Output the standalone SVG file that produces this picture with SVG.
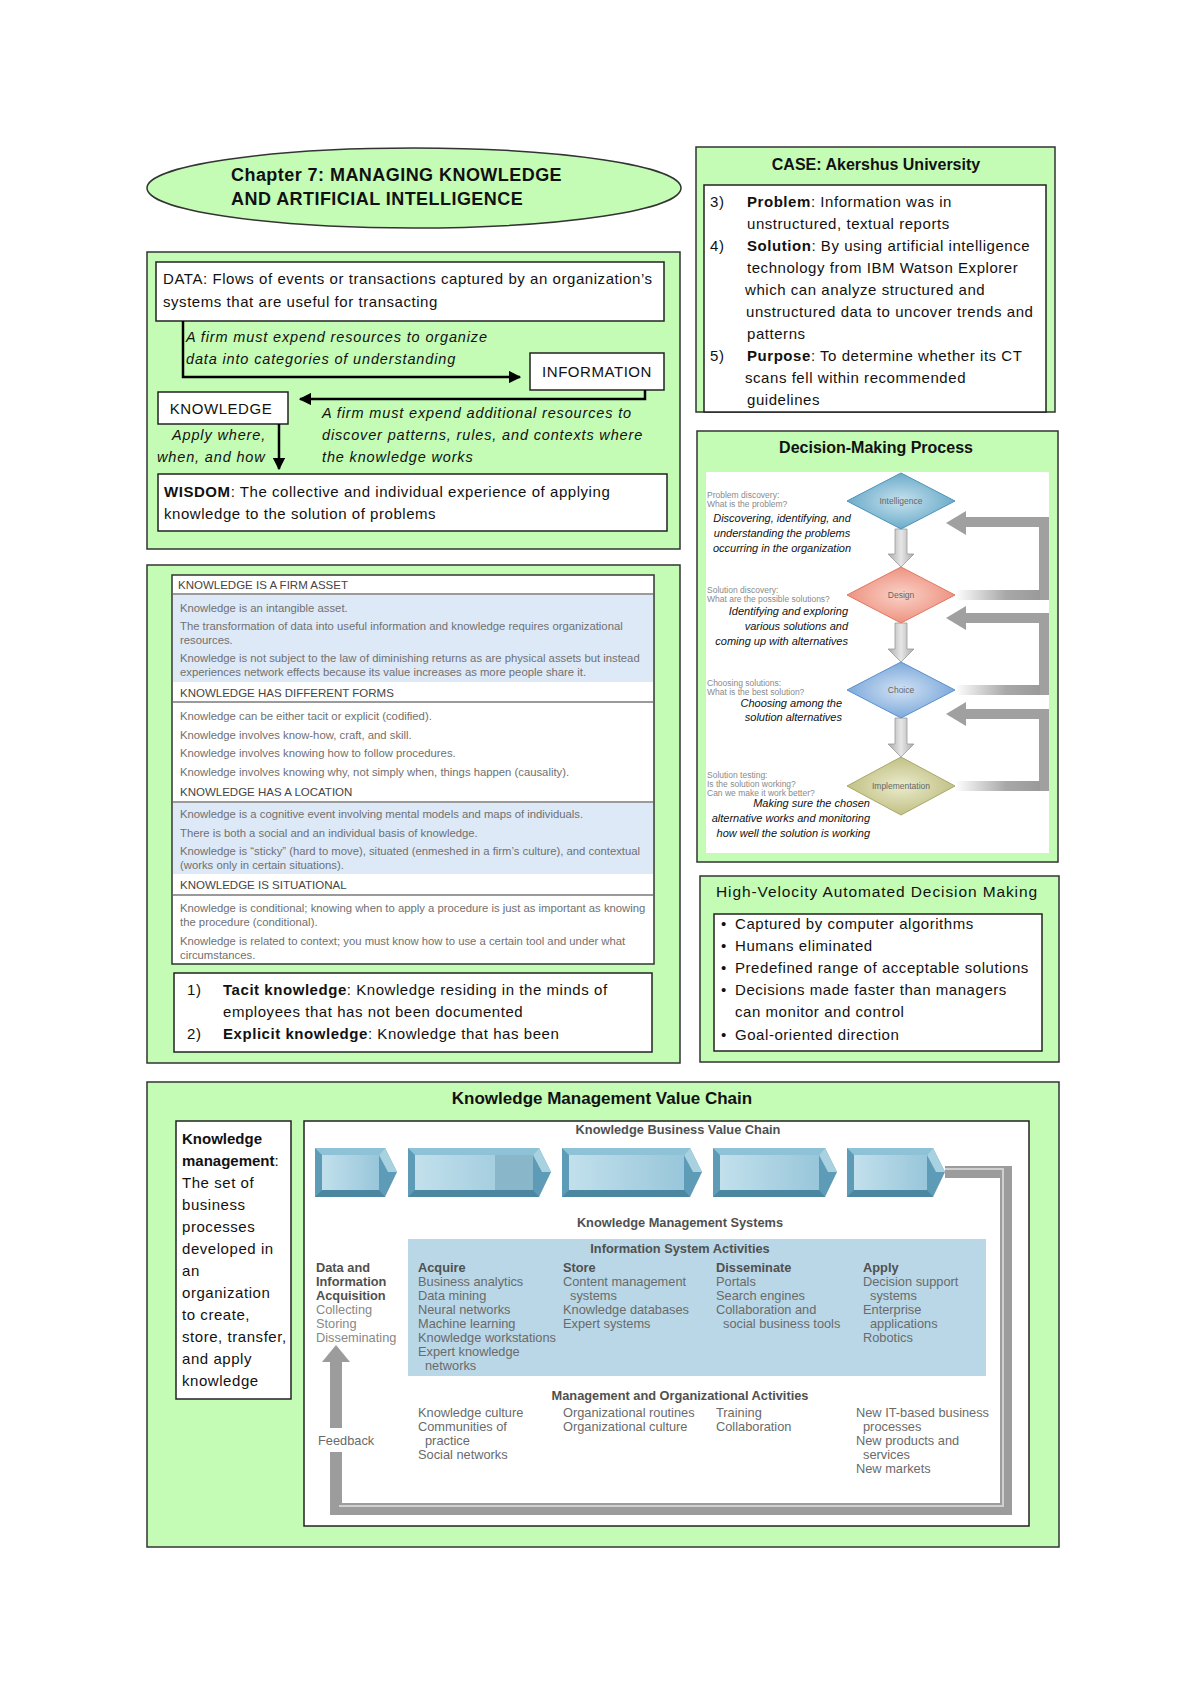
<svg xmlns="http://www.w3.org/2000/svg" width="1200" height="1696" viewBox="0 0 1200 1696">
<defs>
<style>
.panel{fill:#c4fcb6;stroke:#333;stroke-width:1.5}
.box{fill:#fff;stroke:#222;stroke-width:1.5}
.t{font-family:"Liberation Sans",Arial,sans-serif;fill:#111}
.b15{font-size:15px;letter-spacing:0.55px}
.it{font-style:italic;font-size:14.5px;letter-spacing:0.85px}
.ttl{font-size:16px;font-weight:bold}
.tb{font-size:11.3px;fill:#707070}
.th{font-size:11.5px;fill:#454545}
.dg{font-size:8.5px;fill:#8a8a8a}
.di{font-size:11px;font-style:italic;fill:#111}
.dl{font-size:8.5px;fill:#666}
.km{font-size:12.8px;fill:#6a6a6a}
.kmh{font-size:12.8px;fill:#505050;font-weight:bold}
.conn{fill:none;stroke:#000;stroke-width:2.5}
</style>
<marker id="ah" viewBox="0 0 10 10" refX="9" refY="5" markerWidth="5" markerHeight="5" orient="auto" markerUnits="strokeWidth">
<path d="M0,0 L10,5 L0,10 z" fill="#000"/>
</marker>
<radialGradient id="gI" cx="50%" cy="50%" r="60%"><stop offset="0" stop-color="#c6e2ee"/><stop offset="1" stop-color="#5aa0c2"/></radialGradient>
<radialGradient id="gD" cx="50%" cy="50%" r="60%"><stop offset="0" stop-color="#f9d2c8"/><stop offset="1" stop-color="#ec8672"/></radialGradient>
<radialGradient id="gC" cx="50%" cy="50%" r="60%"><stop offset="0" stop-color="#d2e2f4"/><stop offset="1" stop-color="#6c9ed6"/></radialGradient>
<radialGradient id="gM" cx="50%" cy="50%" r="60%"><stop offset="0" stop-color="#ebebcc"/><stop offset="1" stop-color="#b8b878"/></radialGradient>
<linearGradient id="gDown" x1="0" y1="0" x2="1" y2="0"><stop offset="0" stop-color="#aaa"/><stop offset="0.5" stop-color="#e6e6e6"/><stop offset="1" stop-color="#aaa"/></linearGradient>
<linearGradient id="gFb" x1="0" y1="0" x2="1" y2="0"><stop offset="0" stop-color="#fff"/><stop offset="0.6" stop-color="#a8a8a8"/><stop offset="1" stop-color="#9a9a9a"/></linearGradient>
<linearGradient id="gCh" x1="0" y1="0" x2="1" y2="0"><stop offset="0" stop-color="#c2e0ec"/><stop offset="1" stop-color="#98c6da"/></linearGradient>
</defs>
<rect width="1200" height="1696" fill="#fff"/>

<g id="title">
<ellipse cx="414" cy="188" rx="267" ry="40" fill="#c4fcb6" stroke="#333" stroke-width="1.5"/>
<text class="t" x="231" y="181" font-size="18" font-weight="bold" letter-spacing="0.45">Chapter 7: MANAGING KNOWLEDGE</text>
<text class="t" x="231" y="205" font-size="18" font-weight="bold" letter-spacing="0.45">AND ARTIFICIAL INTELLIGENCE</text>
</g>

<g id="dikw-panel">
<rect class="panel" x="147" y="252" width="533" height="297"/>
</g>
<g id="data">
<rect class="box" x="156" y="262" width="508" height="59"/>
<text class="t b15" x="163" y="284">DATA: Flows of events or transactions captured by an organization’s</text>
<text class="t b15" x="163" y="307">systems that are useful for transacting</text>
</g>
<g id="information">
<rect class="box" x="530" y="353" width="134" height="37"/>
<text class="t b15" x="597" y="377" text-anchor="middle">INFORMATION</text>
</g>
<g id="knowledge">
<rect class="box" x="158" y="392" width="130" height="32"/>
<text class="t b15" x="221" y="414" text-anchor="middle">KNOWLEDGE</text>
</g>
<g id="wisdom">
<rect class="box" x="158" y="474" width="509" height="57"/>
<text class="t b15" x="164" y="497" letter-spacing="0.7"><tspan font-weight="bold">WISDOM</tspan>: The collective and individual experience of applying</text>
<text class="t b15" x="164" y="519" letter-spacing="0.7">knowledge to the solution of problems</text>
</g>
<g id="connectors">
<path class="conn" d="M183 321 V377 H520" marker-end="url(#ah)"/>
<path class="conn" d="M645 390 V399 H300" marker-end="url(#ah)"/>
<path class="conn" d="M279 424 V469" marker-end="url(#ah)"/>
</g>
<g id="dikw-labels">
<text class="t it" x="186" y="342">A firm must expend resources to organize</text>
<text class="t it" x="186" y="364">data into categories of understanding</text>
<text class="t it" x="322" y="418">A firm must expend additional resources to</text>
<text class="t it" x="322" y="440">discover patterns, rules, and contexts where</text>
<text class="t it" x="322" y="462">the knowledge works</text>
<text class="t it" x="172" y="440" letter-spacing="0.3">Apply where,</text>
<text class="t it" x="157" y="462" letter-spacing="0.3">when, and how</text>
</g>

<g id="knowledge-table-panel">
<rect class="panel" x="147" y="565" width="533" height="498"/>
<rect x="172" y="575" width="482" height="389" fill="#fff"/>
<rect x="173" y="595" width="480" height="87" fill="#dde9f7"/>
<rect x="173" y="802" width="480" height="72" fill="#dde9f7"/>
<g stroke="#9a9a9a" stroke-width="2">
<line x1="173" y1="594" x2="653" y2="594"/>
<line x1="173" y1="702" x2="653" y2="702"/>
<line x1="173" y1="802" x2="653" y2="802"/>
<line x1="173" y1="895" x2="653" y2="895"/>
</g>
<rect x="172" y="575" width="482" height="389" fill="none" stroke="#333" stroke-width="1.5"/>
<text class="t th" x="178" y="589">KNOWLEDGE IS A FIRM ASSET</text>
<text class="t tb" x="180" y="612">Knowledge is an intangible asset.</text>
<text class="t tb" x="180" y="630">The transformation of data into useful information and knowledge requires organizational</text>
<text class="t tb" x="180" y="644">resources.</text>
<text class="t tb" x="180" y="662">Knowledge is not subject to the law of diminishing returns as are physical assets but instead</text>
<text class="t tb" x="180" y="676">experiences network effects because its value increases as more people share it.</text>
<text class="t th" x="180" y="697">KNOWLEDGE HAS DIFFERENT FORMS</text>
<text class="t tb" x="180" y="720">Knowledge can be either tacit or explicit (codified).</text>
<text class="t tb" x="180" y="739">Knowledge involves know-how, craft, and skill.</text>
<text class="t tb" x="180" y="757">Knowledge involves knowing how to follow procedures.</text>
<text class="t tb" x="180" y="776">Knowledge involves knowing why, not simply when, things happen (causality).</text>
<text class="t th" x="180" y="796">KNOWLEDGE HAS A LOCATION</text>
<text class="t tb" x="180" y="818">Knowledge is a cognitive event involving mental models and maps of individuals.</text>
<text class="t tb" x="180" y="837">There is both a social and an individual basis of knowledge.</text>
<text class="t tb" x="180" y="855">Knowledge is “sticky” (hard to move), situated (enmeshed in a firm’s culture), and contextual</text>
<text class="t tb" x="180" y="869">(works only in certain situations).</text>
<text class="t th" x="180" y="889">KNOWLEDGE IS SITUATIONAL</text>
<text class="t tb" x="180" y="912">Knowledge is conditional; knowing when to apply a procedure is just as important as knowing</text>
<text class="t tb" x="180" y="926">the procedure (conditional).</text>
<text class="t tb" x="180" y="945">Knowledge is related to context; you must know how to use a certain tool and under what</text>
<text class="t tb" x="180" y="959">circumstances.</text>
</g>
<g id="tacit-explicit">
<rect class="box" x="174" y="973" width="478" height="79"/>
<text class="t b15" x="187" y="995">1)</text>
<text class="t b15" x="223" y="995"><tspan font-weight="bold">Tacit knowledge</tspan>: Knowledge residing in the minds of</text>
<text class="t b15" x="223" y="1017">employees that has not been documented</text>
<text class="t b15" x="187" y="1039">2)</text>
<text class="t b15" x="223" y="1039"><tspan font-weight="bold">Explicit knowledge</tspan>: Knowledge that has been</text>
</g>

<g id="case">
<rect class="panel" x="696" y="147" width="359" height="265"/>
<text class="t ttl" x="876" y="170" text-anchor="middle">CASE: Akershus University</text>
<rect class="box" x="704" y="185" width="342" height="227"/>
<text class="t b15" x="710" y="207">3)</text>
<text class="t b15" x="747" y="207"><tspan font-weight="bold">Problem</tspan>: Information was in</text>
<text class="t b15" x="747" y="229">unstructured, textual reports</text>
<text class="t b15" x="710" y="251">4)</text>
<text class="t b15" x="747" y="251"><tspan font-weight="bold">Solution</tspan>: By using artificial intelligence</text>
<text class="t b15" x="747" y="273">technology from IBM Watson Explorer</text>
<text class="t b15" x="745" y="295">which can analyze structured and</text>
<text class="t b15" x="746" y="317">unstructured data to uncover trends and</text>
<text class="t b15" x="747" y="339">patterns</text>
<text class="t b15" x="710" y="361">5)</text>
<text class="t b15" x="747" y="361"><tspan font-weight="bold">Purpose</tspan>: To determine whether its CT</text>
<text class="t b15" x="745" y="383">scans fell within recommended</text>
<text class="t b15" x="747" y="405">guidelines</text>
</g>

<g id="decision-making">
<rect class="panel" x="697" y="431" width="361" height="431"/>
<text class="t ttl" x="876" y="453" text-anchor="middle">Decision-Making Process</text>
<rect x="706" y="472" width="343" height="381" fill="#fff"/>
<g id="dm-feedback">
<path d="M955 595 H1044 V522 H962" fill="none" stroke="#a0a0a0" stroke-width="10"/>
<rect x="955" y="590" width="85" height="10" fill="url(#gFb)"/>
<polygon points="946,523 966,511 966,535" fill="#a0a0a0"/>
<path d="M955 690 H1044 V618 H962" fill="none" stroke="#a0a0a0" stroke-width="10"/>
<rect x="955" y="685" width="85" height="10" fill="url(#gFb)"/>
<polygon points="946,618 966,606 966,630" fill="#a0a0a0"/>
<path d="M955 786 H1044 V714 H962" fill="none" stroke="#a0a0a0" stroke-width="10"/>
<rect x="955" y="781" width="85" height="10" fill="url(#gFb)"/>
<polygon points="946,714 966,702 966,726" fill="#a0a0a0"/>
</g>
<g id="dm-down">
<polygon points="895,529 907,529 907,554 914,554 901,567 888,554 895,554" fill="url(#gDown)" stroke="#999" stroke-width="0.8"/>
<polygon points="895,623 907,623 907,649 914,649 901,662 888,649 895,649" fill="url(#gDown)" stroke="#999" stroke-width="0.8"/>
<polygon points="895,718 907,718 907,744 914,744 901,757 888,744 895,744" fill="url(#gDown)" stroke="#999" stroke-width="0.8"/>
</g>
<g id="intelligence">
<polygon points="847,501 901,473 955,501 901,529" fill="url(#gI)" stroke="#4d94b8" stroke-width="1"/>
<text class="t dl" x="901" y="504" text-anchor="middle">Intelligence</text>
</g>
<g id="design">
<polygon points="847,595 901,567 955,595 901,623" fill="url(#gD)" stroke="#e07862" stroke-width="1"/>
<text class="t dl" x="901" y="598" text-anchor="middle">Design</text>
</g>
<g id="choice">
<polygon points="847,690 901,662 955,690 901,718" fill="url(#gC)" stroke="#5a90cc" stroke-width="1"/>
<text class="t dl" x="901" y="693" text-anchor="middle">Choice</text>
</g>
<g id="implementation">
<polygon points="847,786 901,757 955,786 901,815" fill="url(#gM)" stroke="#a8a868" stroke-width="1"/>
<text class="t dl" x="901" y="789" text-anchor="middle">Implementation</text>
</g>
<text class="t dg" x="707" y="498">Problem discovery:</text>
<text class="t dg" x="707" y="507">What is the problem?</text>
<text class="t di" x="782" y="522" text-anchor="middle">Discovering, identifying, and</text>
<text class="t di" x="782" y="537" text-anchor="middle">understanding the problems</text>
<text class="t di" x="782" y="552" text-anchor="middle">occurring in the organization</text>
<text class="t dg" x="707" y="593">Solution discovery:</text>
<text class="t dg" x="707" y="602">What are the possible solutions?</text>
<text class="t di" x="848" y="615" text-anchor="end">Identifying and exploring</text>
<text class="t di" x="848" y="630" text-anchor="end">various solutions and</text>
<text class="t di" x="848" y="645" text-anchor="end">coming up with alternatives</text>
<text class="t dg" x="707" y="686">Choosing solutions:</text>
<text class="t dg" x="707" y="695">What is the best solution?</text>
<text class="t di" x="842" y="707" text-anchor="end">Choosing among the</text>
<text class="t di" x="842" y="721" text-anchor="end">solution alternatives</text>
<text class="t dg" x="707" y="778">Solution testing:</text>
<text class="t dg" x="707" y="787">Is the solution working?</text>
<text class="t dg" x="707" y="796">Can we make it work better?</text>
<text class="t di" x="870" y="807" text-anchor="end">Making sure the chosen</text>
<text class="t di" x="870" y="822" text-anchor="end">alternative works and monitoring</text>
<text class="t di" x="870" y="837" text-anchor="end">how well the solution is working</text>
</g>

<g id="high-velocity">
<rect class="panel" x="700" y="876" width="359" height="186"/>
<text class="t" x="716" y="897" font-size="15.5" letter-spacing="0.9">High-Velocity Automated Decision Making</text>
<rect class="box" x="714" y="914" width="328" height="137"/>
<g class="t b15">
<text x="721" y="929">•</text><text x="735" y="929">Captured by computer algorithms</text>
<text x="721" y="951">•</text><text x="735" y="951">Humans eliminated</text>
<text x="721" y="973">•</text><text x="735" y="973">Predefined range of acceptable solutions</text>
<text x="721" y="995">•</text><text x="735" y="995">Decisions made faster than managers</text>
<text x="735" y="1017">can monitor and control</text>
<text x="721" y="1040">•</text><text x="735" y="1040">Goal-oriented direction</text>
</g>
</g>

<g id="km-value-chain">
<rect class="panel" x="147" y="1082" width="912" height="465"/>
<text class="t" x="602" y="1104" text-anchor="middle" font-size="17" font-weight="bold">Knowledge Management Value Chain</text>
</g>
<g id="km-definition">
<rect class="box" x="176" y="1121" width="115" height="278"/>
<g class="t b15">
<text x="182" y="1144" font-weight="bold" letter-spacing="0">Knowledge</text>
<text x="182" y="1166" letter-spacing="0"><tspan font-weight="bold">management</tspan>:</text>
<text x="182" y="1188">The set of</text>
<text x="182" y="1210">business</text>
<text x="182" y="1232">processes</text>
<text x="182" y="1254">developed in</text>
<text x="182" y="1276">an</text>
<text x="182" y="1298">organization</text>
<text x="182" y="1320">to create,</text>
<text x="182" y="1342">store, transfer,</text>
<text x="182" y="1364">and apply</text>
<text x="182" y="1386">knowledge</text>
</g>
</g>
<g id="km-figure">
<rect class="box" x="304" y="1121" width="725" height="405"/>
<text class="t kmh" x="678" y="1134" text-anchor="middle" font-size="11.5">Knowledge Business Value Chain</text>
<g id="feedback-loop">
<path d="M945 1172 H1006 V1509 H336 V1362" fill="none" stroke="#9c9c9c" stroke-width="12"/>
<path d="M945 1169 H1003 V1506 H339" fill="none" stroke="#d0d0d0" stroke-width="2"/>
<polygon points="336,1345 350,1362 322,1362" fill="#9c9c9c"/>
<rect x="316" y="1428" width="60" height="24" fill="#fff"/>
<text class="t km" x="318" y="1445">Feedback</text>
</g>
<g id="chevrons">
<g>
<polygon points="315,1148 385,1148 397,1172 385,1197 315,1197" fill="#5e9bb6"/>
<polygon points="315,1148 385,1148 379,1155 322,1155" fill="#8ec3d7"/>
<polygon points="315,1197 385,1197 379,1190 322,1190" fill="#4c87a2"/>
<rect x="322" y="1155" width="57" height="35" fill="url(#gCh)"/>
<polygon points="379,1155 385,1148 397,1172 388,1172" fill="#a9d2e0"/>
</g>
<g>
<polygon points="408,1148 539,1148 551,1172 539,1197 408,1197" fill="#5e9bb6"/>
<polygon points="408,1148 539,1148 533,1155 415,1155" fill="#8ec3d7"/>
<polygon points="408,1197 539,1197 533,1190 415,1190" fill="#4c87a2"/>
<rect x="415" y="1155" width="118" height="35" fill="url(#gCh)"/>
<rect x="495" y="1155" width="38" height="35" fill="#89b6c9"/>
<polygon points="533,1155 539,1148 551,1172 542,1172" fill="#a9d2e0"/>
</g>
<g>
<polygon points="562,1148 690,1148 702,1172 690,1197 562,1197" fill="#5e9bb6"/>
<polygon points="562,1148 690,1148 684,1155 569,1155" fill="#8ec3d7"/>
<polygon points="562,1197 690,1197 684,1190 569,1190" fill="#4c87a2"/>
<rect x="569" y="1155" width="115" height="35" fill="url(#gCh)"/>
<polygon points="684,1155 690,1148 702,1172 693,1172" fill="#a9d2e0"/>
</g>
<g>
<polygon points="713,1148 825,1148 837,1172 825,1197 713,1197" fill="#5e9bb6"/>
<polygon points="713,1148 825,1148 819,1155 720,1155" fill="#8ec3d7"/>
<polygon points="713,1197 825,1197 819,1190 720,1190" fill="#4c87a2"/>
<rect x="720" y="1155" width="99" height="35" fill="url(#gCh)"/>
<polygon points="819,1155 825,1148 837,1172 828,1172" fill="#a9d2e0"/>
</g>
<g>
<polygon points="847,1148 933,1148 945,1172 933,1197 847,1197" fill="#5e9bb6"/>
<polygon points="847,1148 933,1148 927,1155 854,1155" fill="#8ec3d7"/>
<polygon points="847,1197 933,1197 927,1190 854,1190" fill="#4c87a2"/>
<rect x="854" y="1155" width="73" height="35" fill="url(#gCh)"/>
<polygon points="927,1155 933,1148 945,1172 936,1172" fill="#a9d2e0"/>
</g>
</g>
<text class="t kmh" x="680" y="1227" text-anchor="middle" font-size="11.5">Knowledge Management Systems</text>
<rect x="408" y="1239" width="578" height="137" fill="#b9d7e6"/>
<text class="t kmh" x="680" y="1253" text-anchor="middle" font-size="11.5">Information System Activities</text>
<g class="t km">
<text class="kmh" x="316" y="1272">Data and</text>
<text class="kmh" x="316" y="1286">Information</text>
<text class="kmh" x="316" y="1300">Acquisition</text>
<text x="316" y="1314" fill="#888">Collecting</text>
<text x="316" y="1328" fill="#888">Storing</text>
<text x="316" y="1342" fill="#888">Disseminating</text>
<text class="kmh" x="418" y="1272">Acquire</text>
<text x="418" y="1286">Business analytics</text>
<text x="418" y="1300">Data mining</text>
<text x="418" y="1314">Neural networks</text>
<text x="418" y="1328">Machine learning</text>
<text x="418" y="1342">Knowledge workstations</text>
<text x="418" y="1356">Expert knowledge</text>
<text x="425" y="1370">networks</text>
<text class="kmh" x="563" y="1272">Store</text>
<text x="563" y="1286">Content management</text>
<text x="570" y="1300">systems</text>
<text x="563" y="1314">Knowledge databases</text>
<text x="563" y="1328">Expert systems</text>
<text class="kmh" x="716" y="1272">Disseminate</text>
<text x="716" y="1286">Portals</text>
<text x="716" y="1300">Search engines</text>
<text x="716" y="1314">Collaboration and</text>
<text x="723" y="1328">social business tools</text>
<text class="kmh" x="863" y="1272">Apply</text>
<text x="863" y="1286">Decision support</text>
<text x="870" y="1300">systems</text>
<text x="863" y="1314">Enterprise</text>
<text x="870" y="1328">applications</text>
<text x="863" y="1342">Robotics</text>
</g>
<text class="t kmh" x="680" y="1400" text-anchor="middle" font-size="11.5">Management and Organizational Activities</text>
<g class="t km">
<text x="418" y="1417">Knowledge culture</text>
<text x="418" y="1431">Communities of</text>
<text x="425" y="1445">practice</text>
<text x="418" y="1459">Social networks</text>
<text x="563" y="1417">Organizational routines</text>
<text x="563" y="1431">Organizational culture</text>
<text x="716" y="1417">Training</text>
<text x="716" y="1431">Collaboration</text>
<text x="856" y="1417">New IT-based business</text>
<text x="863" y="1431">processes</text>
<text x="856" y="1445">New products and</text>
<text x="863" y="1459">services</text>
<text x="856" y="1473">New markets</text>
</g>
</g>
</svg>
